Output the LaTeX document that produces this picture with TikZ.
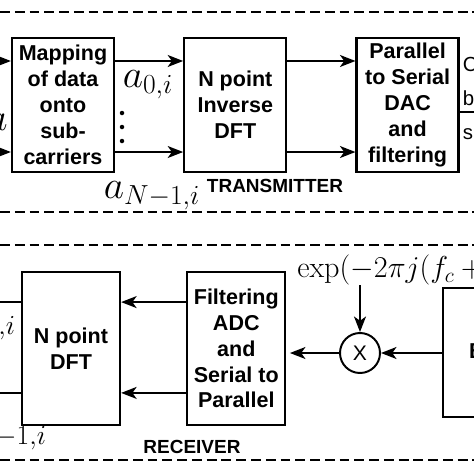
\RequirePackage{fix-cm}
\documentclass[tikz,border=0pt]{standalone}
\usepackage{fontspec}
\setsansfont{Liberation Sans}
\usetikzlibrary{positioning,arrows.meta}

\begin{document}
\begin{tikzpicture}[
    x=0.025cm, y=-0.025cm,
    node distance=1.7cm,
    box/.style={
      rectangle, draw=black, line width=1.6pt,
      align=center, font=\fontsize{15.3}{18.4}\selectfont\sffamily\bfseries,
      minimum width=2.55cm, minimum height=3.35cm, inner sep=1pt
    },
    arr/.style={-{Stealth[length=11pt,width=8.5pt,inset=3pt]}, line width=1.4pt},
    wire/.style={line width=1.4pt},
    sep/.style={line width=1.3pt, dash pattern=on 7pt off 3.5pt},
    lbl/.style={font=\fontsize{13.5}{14}\selectfont\sffamily\bfseries},
    sym/.style={font=\fontsize{28}{28}\selectfont, inner sep=0pt}
  ]
    \useasboundingbox (0,0) rectangle (474,474);
    \fill[white] (0,0) rectangle (474,474);

    % transmitter
    \node[box] (map) at (63,105) {Mapping\\of data\\onto\\sub-\\carriers};
    \node[box, right=of map] (idft) {N point\\Inverse\\DFT};
    \node[box, right=of idft] (ps) {Parallel\\to Serial\\DAC\\and\\filtering};
    \node[anchor=west, align=left, font=\fontsize{14.5}{24}\selectfont\sffamily]
      (chan) at (458,100) {Complex\\baseband\\signal};
    \node[sym, anchor=east] (din) at (8,122) {$a$};
    \node[sym] (a0) at (148,85) {$a_{0,i}$};
    \node[sym] (aN) at (152,196) {$a_{N-1,i}$};
    \node[lbl] (txlbl) at (275,186) {TRANSMITTER};
    \coordinate (in0) at (0,61);
    \coordinate (in1) at (0,152);
    \coordinate (tx) at (474,112);
    \fill (122,113) circle (1.6pt);
    \fill (122,127) circle (1.6pt);
    \fill (122,141) circle (1.6pt);
    \draw[arr] (in0) -- (map.west |- in0);
    \draw[arr] (in1) -- (map.west |- in1);
    \draw[arr] ([yshift=1.1cm]map.east) -- ([yshift=1.1cm]idft.west);
    \draw[arr] ([yshift=-1.175cm]map.east) -- ([yshift=-1.175cm]idft.west);
    \draw[arr] ([yshift=1.1cm]idft.east) -- ([yshift=1.1cm]ps.west);
    \draw[arr] ([yshift=-1.175cm]idft.east) -- ([yshift=-1.175cm]ps.west);
    \draw[wire] (ps.east |- tx) -- (tx);

    % separators
    \draw[sep] (0,12) -- (474,12);
    \draw[sep] (0,212) -- (474,212);
    \draw[sep] (0,245) -- (474,245);
    \draw[sep] (0,460) -- (474,460);

    % receiver
    \node[box, minimum width=2.45cm, minimum height=3.825cm] (dft) at (71,348.5) {N point\\DFT};
    \node[box, minimum width=2.45cm, minimum height=3.825cm, right=1.625cm of dft] (filt)
      {Filtering\\ADC\\and\\Serial to\\Parallel};
    \node[circle, draw, line width=1.4pt, minimum size=1cm, inner sep=0pt,
      font=\fontsize{15}{15}\selectfont\sffamily] (mix) at (360,353) {X};
    \node[box, anchor=west, minimum height=3.225cm, align=left, inner xsep=0.65cm]
      (rx) at (442,352.5) {Bandpass};
    \node[anchor=west, font=\fontsize{21.5}{23}\selectfont, inner sep=0pt]
      (expl) at (297,270) {$\exp(-2\pi j(f_c+\Delta f)t)$};
    \node[sym, anchor=east] (b0) at (16,326) {$a_{0,i}$};
    \node[sym, anchor=east] (bN) at (47,436) {$a_{N-1,i}$};
    \node[lbl] (rxlbl) at (192,447) {RECEIVER};
    \coordinate (o0) at (0,302);
    \coordinate (o1) at (0,393);
    \draw[arr] ([yshift=1.16cm]filt.west) -- ([yshift=1.16cm]dft.east);
    \draw[arr] ([yshift=-1.11cm]filt.west) -- ([yshift=-1.11cm]dft.east);
    \draw[wire] (dft.west |- o0) -- (o0);
    \draw[wire] (dft.west |- o1) -- (o1);
    \draw[arr] (mix.north |- expl.south) -- (mix.north);
    \draw[arr] (rx.west |- mix) -- (mix.east);
    \draw[arr, shorten >=2.5pt] (mix.west) -- (mix.west -| filt.east);
  \end{tikzpicture}
\end{document}
